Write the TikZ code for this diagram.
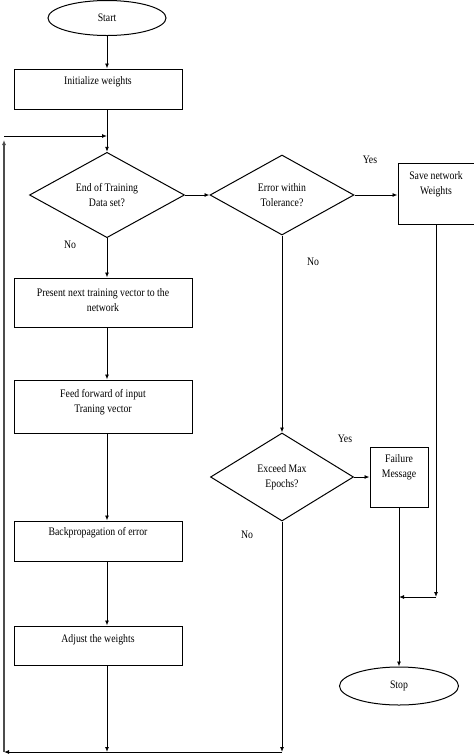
\documentclass[tikz,border=0pt]{standalone}
\usepackage{fontspec}
\setmainfont[FakeStretch=0.85]{Liberation Serif}
\usetikzlibrary{shapes.geometric,arrows.meta}
\begin{document}
\begin{tikzpicture}[x=1pt,y=-1pt,
  font=\fontsize{11.5}{15}\selectfont,
  line width=0.9pt,
  box/.style={draw, line width=1pt, inner sep=0pt},
  term/.style={draw, ellipse, line width=1pt, inner sep=0pt},
  dec/.style={draw, diamond, line width=1pt, inner sep=0pt, align=center},
  txt/.style={inner sep=0pt, align=center},
  arr/.style={-{Latex[length=5pt,width=4pt]}},
  loopline/.style={line width=1.3pt, draw=black!70}]
\useasboundingbox (0,0) rectangle (474,756);

% terminals
\node[term, minimum width=118pt, minimum height=35pt] (start) at (107,18) {Start};
\node[term, minimum width=119pt, minimum height=38pt] (stop) at (399,686) {Stop};

% left column boxes
\node[box, minimum width=168pt, minimum height=40pt] (init) at (98,89) {};
\node[txt] (initt) at (98,82) {Initialize weights};

\node[dec, minimum width=155pt, minimum height=85pt] (d1) at (107,195) {End of Training\\Data set?};

\node[box, minimum width=178pt, minimum height=49pt] (pres) at (103,302.5) {};
\node[txt] (prest) at (103,300) {Present next training vector to the\\network};

\node[box, minimum width=178pt, minimum height=53pt] (feed) at (103,406.5) {};
\node[txt] (feedt) at (103,402) {Feed forward of input\\Traning vector};

\node[box, minimum width=168pt, minimum height=40pt] (back) at (98,541) {};
\node[txt] (backt) at (98,533) {Backpropagation of error};

\node[box, minimum width=168pt, minimum height=39pt] (adj) at (98,645.5) {};
\node[txt] (adjt) at (98,640) {Adjust the weights};

% right column
\node[dec, minimum width=144pt, minimum height=80pt] (d2) at (282,195) {Error within\\Tolerance?};
\node[box, minimum width=76pt, minimum height=61pt] (save) at (436,193.5) {};
\node[txt] (savet) at (436,184.5) {Save network\\Weights};

\node[dec, minimum width=143pt, minimum height=88pt] (d3) at (282,477) {Exceed Max\\Epochs?};
\node[box, minimum width=58pt, minimum height=60pt] (fail) at (399,477) {};
\node[txt] (failt) at (399,467.5) {Failure\\Message};

% labels
\node[txt] (no1) at (70,245) {No};
\node[txt] (yes1) at (370,160) {Yes};
\node[txt] (no2) at (313,262) {No};
\node[txt] (yes2) at (345,439) {Yes};
\node[txt] (no3) at (247,535) {No};

% coordinates
\coordinate (lt) at (4,136);
\coordinate (ltop) at (4,140);
\coordinate (bl) at (4,752);
\coordinate (br) at (282,752);
\coordinate (yj) at (0,597);
\coordinate (sj) at (save.south |- yj);

% connectors
\draw[arr] (start.south) -- (start.south |- init.north);
\draw[arr] (init.south -| d1.north) -- (d1.north);
\draw[arr] (lt) -- (lt -| d1.north);
\draw[arr] (d1.south) -- (d1.south |- pres.north);
\draw[arr] (pres.south -| d1.south) -- (feed.north -| d1.south);
\draw[arr] (feed.south -| d1.south) -- (back.north -| d1.south);
\draw[arr] (back.south -| d1.south) -- (adj.north -| d1.south);
\draw[arr] (adj.south -| d1.south) -- (d1.south |- br);

\draw[arr] (d1.east) -- (d2.west);
\draw[arr] (d2.east) -- (d2.east -| save.west);
\draw[arr] (d2.south) -- (d3.north);
\draw[arr] (d3.east) -- (d3.east -| fail.west);
\draw[arr] (d3.south) -- (br);
\draw[arr] (br) -- (bl);
\draw[arr, loopline] (bl) -- (ltop);

\draw[arr] (fail.south) -- (fail.south |- stop.north);
\draw[arr] (save.south) -- (sj);
\draw[arr] (sj) -- (fail.south |- sj);
\end{tikzpicture}
\end{document}
